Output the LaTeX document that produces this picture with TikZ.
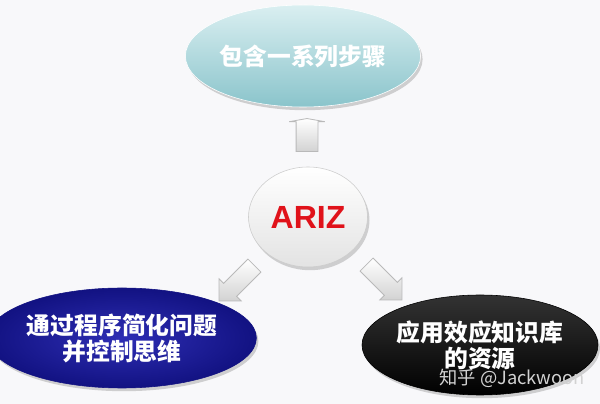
\documentclass[tikz,border=0pt]{standalone}
\usepackage{fontspec}
\setmainfont{Liberation Sans}
\newfontfamily\cjk{Noto Sans CJK SC}
\usepackage{tikz}
\usetikzlibrary{positioning}
\usetikzlibrary{shapes,arrows,shadows}

\definecolor{tealtop}{HTML}{DAEFF1}
\definecolor{tealbot}{HTML}{8AC4CB}
\definecolor{navyin}{HTML}{2E2EB4}
\definecolor{navyout}{HTML}{121282}
\definecolor{arizred}{HTML}{E0121A}
\definecolor{paper}{HTML}{F8F8FA}

\begin{document}
\begin{tikzpicture}[bubble/.style={ellipse,
                                     inner sep=0mm,outer sep=0,
                                     align=center,
                                     text=white,
                                     font=\cjk\bfseries\fontsize{16.9}{18.5}\selectfont,
                                     drop shadow={opacity=0.35,shadow xshift=0.5mm,shadow yshift=-0.8mm}
                                   },
                    blockarrow/.style={single arrow,
                                     inner xsep=0mm,outer sep=0,
                                     draw=gray!55,
                                     line width=0.2mm,
                                     top color=white,
                                     bottom color=gray!35
                                   }
                   ]
\useasboundingbox (0,0) rectangle (15,10.1);
\fill[paper] (0,0) rectangle (15,10.1);
\node[bubble,minimum width=5.5cm,minimum height=2.55cm,
      top color=tealtop,bottom color=tealbot,draw=white] (steps) at (7.575,8.7) {包含一系列步骤};
\node[bubble,minimum width=2.975cm,minimum height=2.5cm,
      top color=white,bottom color=gray!22,draw=gray!40,
      text=arizred,font=\bfseries\fontsize{22.8}{24}\selectfont] (ariz) at (7.7,4.675) {ARIZ};
\node[bubble,minimum width=5.775cm,minimum height=2.5cm,
      inner color=navyin,outer color=navyout,draw=navyout] (program) at (3.05,1.65) {通过程序简化问题\\并控制思维};
\node[bubble,minimum width=5.9cm,minimum height=2.5cm,
      top color=black!80,bottom color=black,draw=black] (effects) at (12.0,1.475) {应用效应知识库\\的资源};
\node[text=gray!35,font=\cjk\fontsize{13}{15}\selectfont] (mark) at (12.8,0.65) {知乎 @Jackwoon};
\node[blockarrow,minimum height=0.825cm,inner ysep=0.2625cm,
      single arrow head extend=0.175cm,single arrow tip angle=160,rotate=90] (up) at (7.675,6.7) {};
\node[blockarrow,minimum height=1.25cm,inner ysep=0.22cm,
      single arrow head extend=0.16cm,rotate=225] (left) at (6.0,3.1) {};
\node[blockarrow,minimum height=1.25cm,inner ysep=0.22cm,
      single arrow head extend=0.16cm,rotate=-45] (right) at (9.525,3.125) {};
\end{tikzpicture}
\end{document}
